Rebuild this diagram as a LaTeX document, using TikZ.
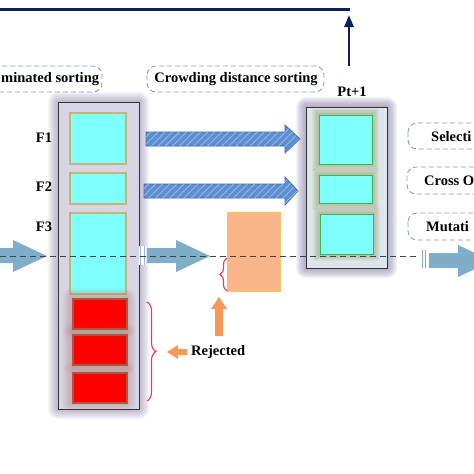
\documentclass[tikz,border=0pt]{standalone}
\usepackage{fontspec}
\setmainfont{Liberation Serif}
\usetikzlibrary{arrows.meta,patterns.meta,decorations.pathreplacing}
\definecolor{navy}{HTML}{0A1F5C}
\definecolor{glowc}{HTML}{8C86AC}
\definecolor{colfill}{HTML}{D7D4E3}
\definecolor{ptfill}{HTML}{DEE5EC}
\definecolor{cyanf}{HTML}{80FFFF}
\definecolor{tanb}{HTML}{C8B46E}
\definecolor{olive}{HTML}{8E9A58}
\definecolor{greenb}{HTML}{3CB850}
\definecolor{redb}{HTML}{A85A40}
\definecolor{steel}{HTML}{7EAEC8}
\definecolor{hatchf}{HTML}{5A8FD8}
\definecolor{hatchl}{HTML}{9CB8C8}
\definecolor{hatchb}{HTML}{3C64A8}
\definecolor{dashc}{HTML}{8AA0B8}
\definecolor{peach}{HTML}{FBB58A}
\definecolor{peachb}{HTML}{F6C45A}
\definecolor{orangea}{HTML}{F89858}
\definecolor{braceccol}{HTML}{E8385A}
\definecolor{linec}{HTML}{404050}
\newcommand\myglow[6]{%
  \foreach \r in {1,...,10}{\fill[#1, opacity=#6, rounded corners=\r pt] (#2-\r,#3-\r) rectangle (#4+\r,#5+\r);}}
\tikzset{
  lbl/.style={font=\bfseries\fontsize{14.5}{16}\selectfont, inner sep=0pt},
  dbox/.style={draw=dashc, dash pattern=on 5pt off 3pt, line width=0.9pt, rounded corners=9pt},
  colbox/.style={draw=black!80, line width=1pt, anchor=north west, inner sep=0pt},
  cbox/.style={fill=cyanf, draw=tanb, line width=2pt, anchor=north west, inner sep=0pt},
  pbox/.style={fill=cyanf, draw=greenb, line width=1pt, anchor=north west, inner sep=0pt},
  rbox/.style={fill=red, draw=redb, line width=1.5pt, anchor=north west, inner sep=0pt},
  hatcharrow/.style={fill=hatchf, draw=hatchb, line width=0.8pt,
    postaction={pattern={Lines[angle=45,distance=5pt,line width=0.9pt]}, pattern color=hatchl}},
  brc/.style={draw=braceccol, line width=1.1pt, decorate},
}
\begin{document}
\begin{tikzpicture}[x=1pt,y=-1pt]
\useasboundingbox (0,0) rectangle (474,474);
\clip (0,0) rectangle (474,474);
\fill[white] (0,0) rectangle (474,474);

% feedback line
\draw[navy, line width=2.8pt] (0,9.5) -- (350,9.5);
\coordinate (fbstart) at (349,66);
\coordinate (fbend) at (349,15);
\draw[navy, line width=2.8pt, -{Triangle[length=12pt,width=9pt]}] (fbstart) -- (fbend);

% dashed label boxes
\draw[dbox] (-20,66) rectangle (102,92);
\node[lbl, anchor=west] (nds) at (1,79.5) {minated sorting};
\draw[dbox] (147,66) rectangle (324,92);
\node[lbl] (cds) at (236,79.5) {Crowding distance sorting};
\draw[dbox] (408,123) rectangle (520,149);
\node[lbl, anchor=west] (sel) at (431,136.5) {Selecti};
\draw[dbox] (407,167) rectangle (520,194);
\node[lbl, anchor=west] (cro) at (424,181) {Cross O};
\draw[dbox] (408,213) rectangle (520,240);
\node[lbl, anchor=west] (mut) at (426,227) {Mutati};

% F column
\myglow{glowc}{58}{102}{139}{409}{0.07}
\node[colbox, fill=colfill, minimum width=81pt, minimum height=307pt] (fcol) at (58,102) {};
\node[cbox, minimum width=56pt, minimum height=51pt] (f1) at (69,112) {};
\node[cbox, minimum width=56pt, minimum height=31pt] (f2) at (69,172) {};
\node[cbox, minimum width=56pt, minimum height=81pt] (f3) at (69,212) {};
\foreach \yy/\nm in {298/r1,334/r2,372/r3}{
  \myglow{redb}{72}{\yy}{126}{\yy+30}{0.03}
  \node[rbox, minimum width=54pt, minimum height=30pt] (\nm) at (72,\yy) {};
}
\node[lbl] (lf1) at (44,138) {F1};
\node[lbl] (lf2) at (44,187) {F2};
\node[lbl] (lf3) at (44,227) {F3};

% Pt+1 column
\myglow{glowc}{306}{107}{387}{268}{0.09}
\node[colbox, fill=ptfill, minimum width=81pt, minimum height=161pt] (pcol) at (306,107) {};
\foreach \xa/\ya/\xb/\yb in {319/115/372/164, 319/175/372/203, 320/214/373/254}{
  \foreach \r in {1,...,7}{\fill[olive, opacity=0.09] (\xa-\r,\ya-\r) rectangle (\xb+\r,\yb+\r);}
}
\node[pbox, minimum width=53pt, minimum height=49pt] (p1) at (319,115) {};
\node[pbox, minimum width=53pt, minimum height=28pt] (p2) at (319,175) {};
\node[pbox, minimum width=53pt, minimum height=40pt] (p3) at (320,214) {};
\node[lbl] (pt) at (352,92) {Pt+1};

% hatched arrows
\draw[hatcharrow] (146,132) -- (285,132) -- (285,125) -- (300,139) -- (285,153) -- (285,146) -- (146,146) -- cycle;
\draw[hatcharrow] (144,184) -- (285,184) -- (285,177) -- (298,191) -- (285,205) -- (285,198) -- (144,198) -- cycle;

% orange box
\node[fill=peach, draw=peachb, line width=1pt, anchor=north west, inner sep=0pt, minimum width=53pt, minimum height=79pt] (ob) at (227,212) {};

% steel arrows
\fill[steel] (0,248) -- (13,248) -- (13,240) -- (47,256) -- (13,272) -- (13,263) -- (0,263) -- cycle;
\fill[steel] (147,248) -- (176,248) -- (176,240) -- (210,256) -- (176,272) -- (176,263) -- (147,263) -- cycle;
\fill[steel] (429,253) -- (458,253) -- (458,245) -- (492,261) -- (458,277) -- (458,268) -- (429,268) -- cycle;
\fill[white] (139,246) rectangle (146,265);
\draw[hatchl, line width=0.6pt] (140.5,246) -- (140.5,265) (144,246) -- (144,265);
\draw[steel, line width=0.8pt] (422,250) -- (422,268) (425.5,250) -- (425.5,268);

% dashed centre line
\coordinate (dl0) at (0,256);
\coordinate (dl1) at (418,256);
\draw[linec, line width=1pt, dash pattern=on 6pt off 4pt] (dl0) -- (dl1);

% braces
\draw[brc, decoration={brace, amplitude=7pt}] (227,291) -- (227,258);
\draw[brc, decoration={brace, amplitude=9pt}] (147,302) -- (147,401);

% orange arrows
\fill[orangea] (215,336) -- (215,309) -- (211,309) -- (219,297) -- (227,309) -- (223,309) -- (223,336) -- cycle;
\fill[orangea] (187,349) -- (178,349) -- (178,345) -- (167,352) -- (178,359) -- (178,355) -- (187,355) -- cycle;
\node[lbl, anchor=west] (rej) at (191,352) {Rejected};
\end{tikzpicture}
\end{document}
